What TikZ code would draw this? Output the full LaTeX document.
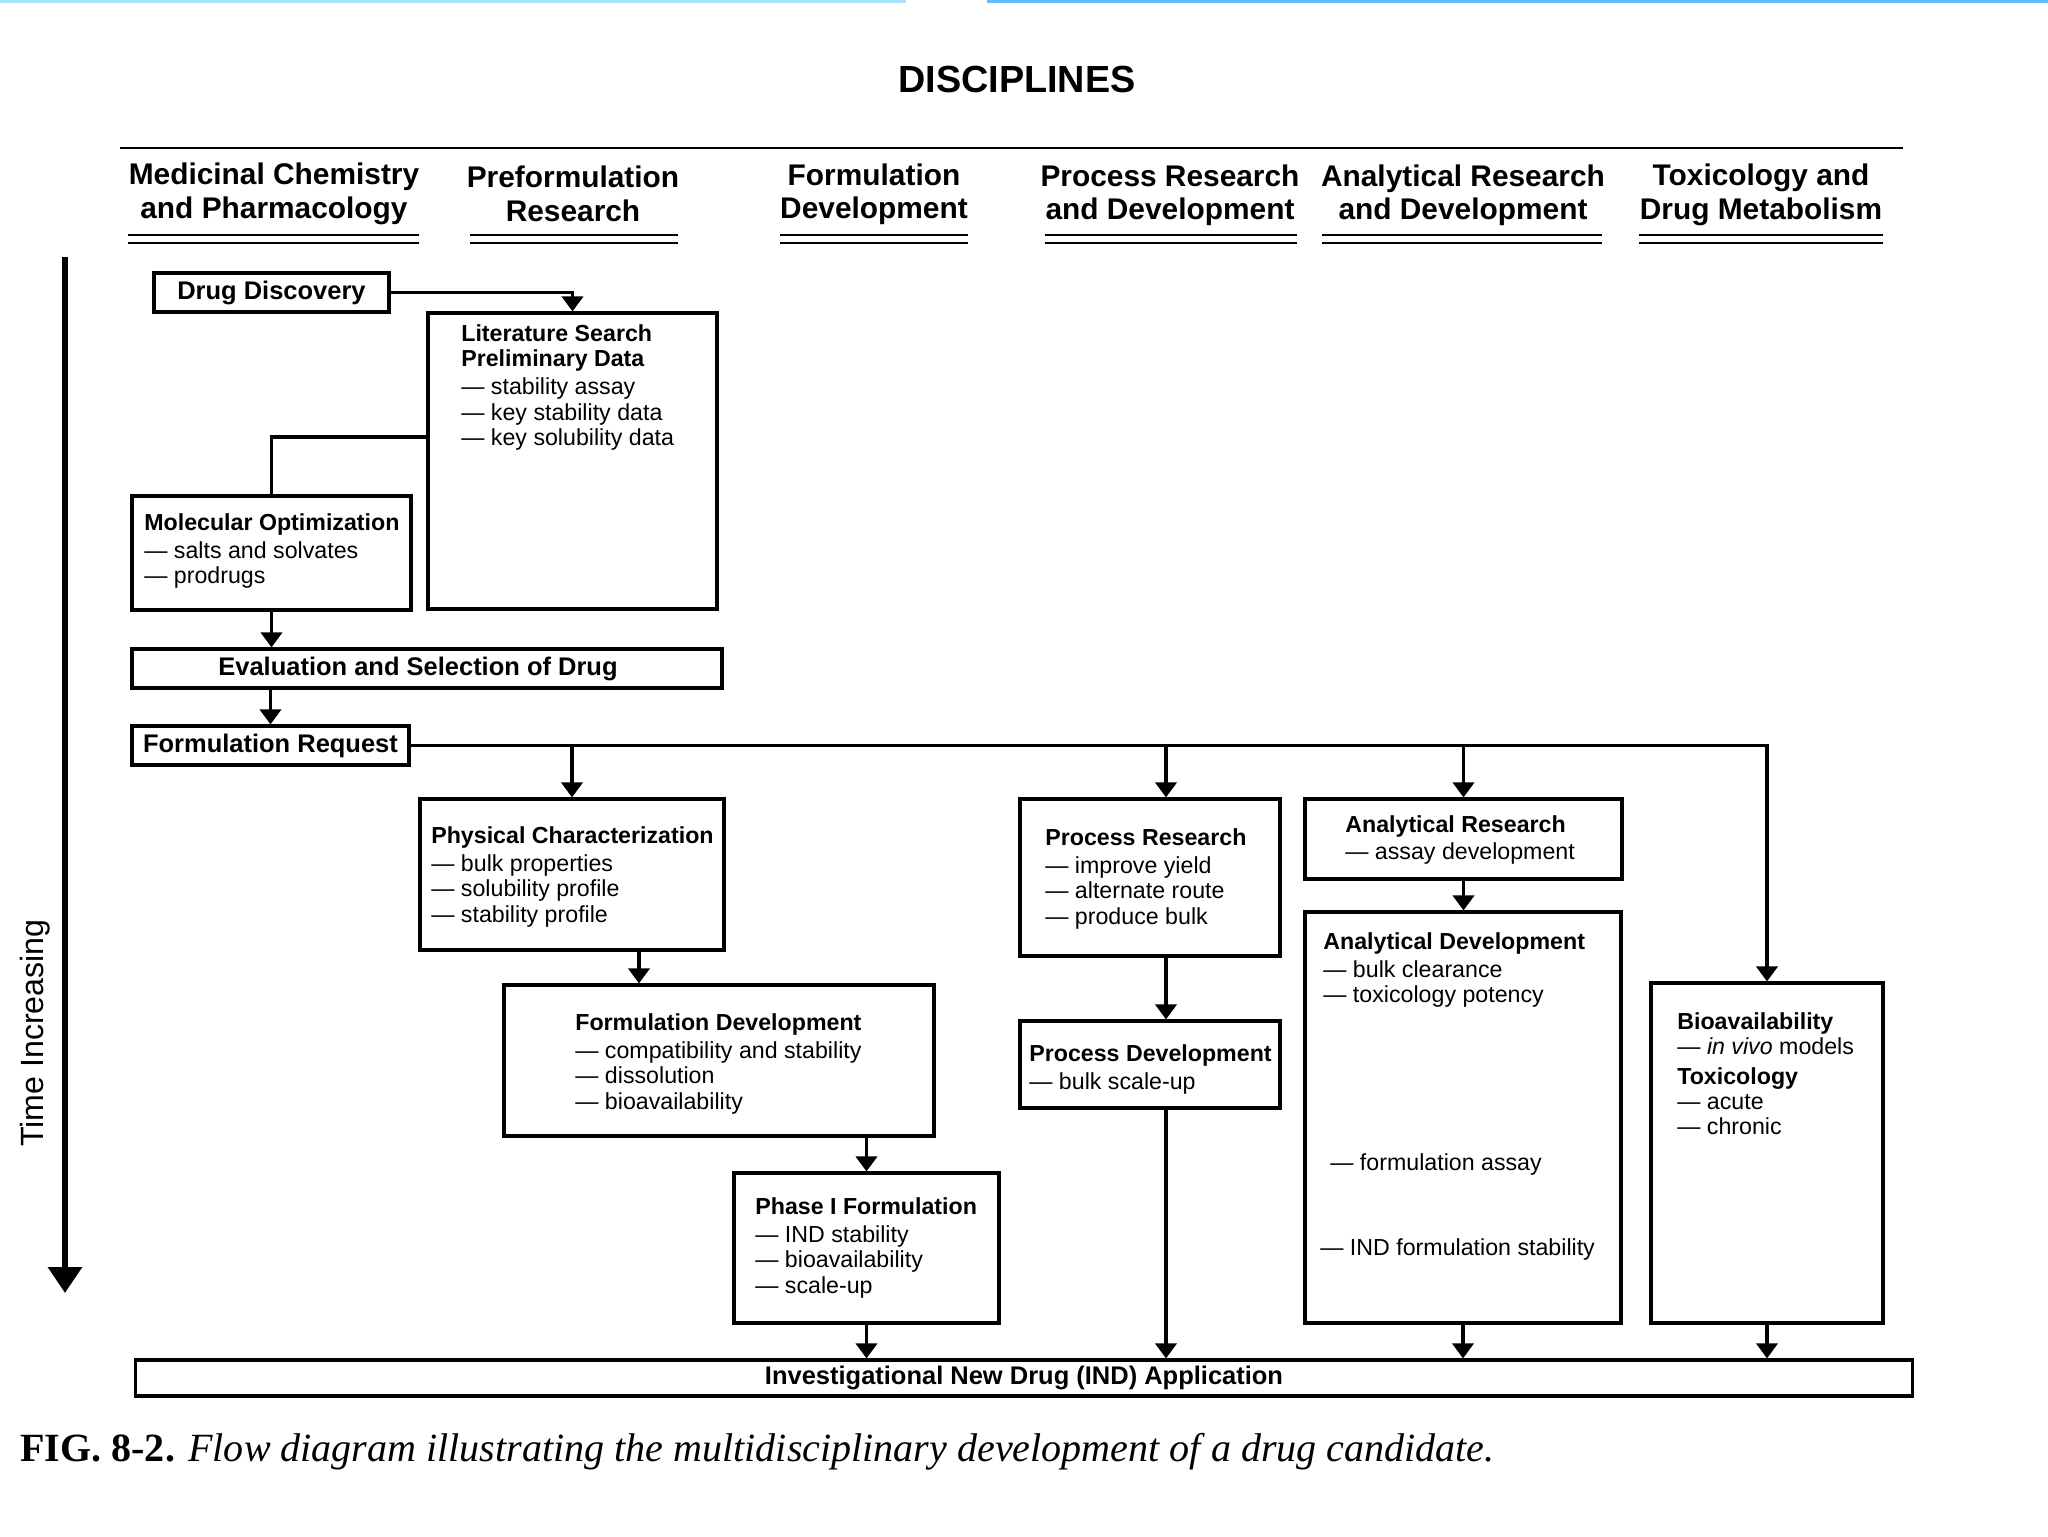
\documentclass[tikz,border=0pt]{standalone}
\usepackage{fontspec}
\setmainfont{Liberation Sans}
\newfontfamily\captionserif{Liberation Serif}
\usetikzlibrary{arrows.meta}

\tikzset{
  stage/.style={draw, line width=1.8pt, inner sep=0pt},
  stagetext/.style={anchor=north west, align=left, inner sep=0pt, font=\fontsize{13.2}{14.3}\selectfont},
  banner/.style={stage, font=\bfseries\fontsize{14.5}{16}\selectfont},
  discipline/.style={align=center, font=\bfseries\fontsize{17}{19}\selectfont},
  link/.style={line width=2pt},
  flow/.style={link, -{Triangle[width=0.42cm,length=0.3cm]}},
  rule/.style={line width=1.5pt},
}

\begin{document}
\begin{tikzpicture}[x=0.02cm, y=-0.02cm]
        \useasboundingbox (0,0) rectangle (2048,1536);
        \draw[cyan!35, line width=0.06cm] (0,1.5) -- (906,1.5);
        \draw[blue!45!cyan!60, line width=0.06cm] (987,1.5) -- (2048,1.5);

        % heading and disciplines
        \node[font=\bfseries\fontsize{21.5}{24}\selectfont] (title) at (1017,79) {DISCIPLINES};
        \draw[rule] (120,148) -- (1903,148);

        \node[discipline] (medchem) at (274,194) {Medicinal Chemistry\\and Pharmacology};
        \node[discipline] (preform) at (573,194) {Preformulation\\Research};
        \node[discipline] (formdev) at (874,194) {Formulation\\Development};
        \node[discipline] (procdev) at (1170,195) {Process Research\\and Development};
        \node[discipline] (analdev) at (1463,195) {Analytical Research\\and Development};
        \node[discipline] (toxdm) at (1761,195) {Toxicology and\\Drug Metabolism};

        \draw[rule] (128,235) -- (419,235);  \draw[rule] (128,243) -- (419,243);
        \draw[rule] (470,235) -- (678,235);  \draw[rule] (470,243) -- (678,243);
        \draw[rule] (780,235) -- (968,235);  \draw[rule] (780,243) -- (968,243);
        \draw[rule] (1045,235) -- (1297,235); \draw[rule] (1045,243) -- (1297,243);
        \draw[rule] (1322,235) -- (1602,235); \draw[rule] (1322,243) -- (1602,243);
        \draw[rule] (1639,235) -- (1883,235); \draw[rule] (1639,243) -- (1883,243);

        % time axis
        \coordinate (tstart) at (65,257);
        \coordinate (tend) at (65,1293);
        \draw[line width=3.6pt, -{Triangle[width=0.66cm,length=0.52cm]}] (tstart) -- (tend);
        \node[rotate=90, font=\fontsize{18.3}{20}\selectfont] (timelabel) at (35,1033) {Time Increasing};

        % boxes
        \node[banner, minimum width=4.70cm, minimum height=0.78cm] (dd) at (271.5,292.5) {Drug Discovery};
        \node[stage, minimum width=5.78cm, minimum height=5.92cm] (lit) at (572.5,461) {};
        \node[stage, minimum width=5.58cm, minimum height=2.28cm] (molopt) at (271.5,553) {};
        \node[banner, minimum width=11.8cm, minimum height=0.78cm] (eval) at (427,668.5) {Evaluation and Selection of Drug\hspace*{0.36cm}};
        \node[banner, minimum width=5.54cm, minimum height=0.78cm] (freq) at (270.5,745.5) {Formulation Request};
        \node[stage, minimum width=6.08cm, minimum height=3.02cm] (phys) at (572,874.5) {};
        \node[stage, minimum width=8.60cm, minimum height=3.02cm] (fdev) at (719,1060.5) {};
        \node[stage, minimum width=5.30cm, minimum height=3.00cm] (phase) at (866.5,1248) {};
        \node[stage, minimum width=5.20cm, minimum height=3.14cm] (procr) at (1150,877.5) {};
        \node[stage, minimum width=5.20cm, minimum height=1.74cm] (procd) at (1150,1064.5) {};
        \node[stage, minimum width=6.34cm, minimum height=1.60cm] (anar) at (1463.5,839) {};
        \node[stage, minimum width=6.32cm, minimum height=8.22cm] (anad) at (1463,1117.5) {};
        \node[stage, minimum width=4.64cm, minimum height=6.80cm] (biotox) at (1767,1153) {};
        \node[banner, minimum width=35.56cm, minimum height=0.72cm, font=\bfseries\fontsize{14.5}{16}\selectfont] (ind) at (1024,1378) {Investigational New Drug (IND) Application};

        % box contents
        \node[stagetext] (lit-t) at (461,324) {\textbf{Literature Search}\\\textbf{Preliminary Data}\\[2pt]--- stability assay\\--- key stability data\\--- key solubility data};
        \node[stagetext] (molopt-t) at (144,513) {\textbf{Molecular Optimization}\\[2pt]--- salts and solvates\\--- prodrugs};
        \node[stagetext] (phys-t) at (431,826) {\textbf{Physical Characterization}\\[2pt]--- bulk properties\\--- solubility profile\\--- stability profile};
        \node[stagetext] (fdev-t) at (575,1013) {\textbf{Formulation Development}\\[2pt]--- compatibility and stability\\--- dissolution\\--- bioavailability};
        \node[stagetext] (phase-t) at (755,1197) {\textbf{Phase I Formulation}\\[2pt]--- IND stability\\--- bioavailability\\--- scale-up};
        \node[stagetext] (procr-t) at (1045,828) {\textbf{Process Research}\\[2pt]--- improve yield\\--- alternate route\\--- produce bulk};
        \node[stagetext] (procd-t) at (1029,1044) {\textbf{Process Development}\\[2pt]--- bulk scale-up};
        \node[stagetext] (anar-t) at (1345,815) {\textbf{Analytical Research}\\[1pt]--- assay development};
        \node[stagetext] (anad-t) at (1323,932) {\textbf{Analytical Development}\\[2pt]--- bulk clearance\\--- toxicology potency};
        \node[stagetext] (anad-t2) at (1330,1153) {--- formulation assay};
        \node[stagetext] (anad-t3) at (1320,1238) {--- IND formulation stability};
        \node[stagetext] (biotox-t) at (1677,1012) {\textbf{Bioavailability}\\--- \textit{in vivo} models\\[3pt]\textbf{Toxicology}\\--- acute\\--- chronic};

        % connectors
        \draw[flow] (dd.east) -| (lit.north);
        \draw[link] ([yshift=0.48cm]lit.west) -| (molopt.north);
        \draw[flow] (molopt.south) -- (molopt.south |- eval.north);
        \draw[flow] (freq.north |- eval.south) -- (freq.north);
        \draw[flow] (freq.east) -| (biotox.north);
        \draw[flow] (phys.north |- freq.east) -- (phys.north);
        \draw[flow] ([xshift=0.32cm]procr.north |- freq.east) -- ([xshift=0.32cm]procr.north);
        \draw[flow] (anar.north |- freq.east) -- (anar.north);
        \draw[flow] ([xshift=1.34cm]phys.south) -- ([xshift=1.34cm]phys.south |- fdev.north);
        \draw[flow] (phase.north |- fdev.south) -- (phase.north);
        \draw[flow] ([xshift=0.32cm]procr.south) -- ([xshift=0.32cm]procd.north);
        \draw[flow] (anar.south) -- (anar.south |- anad.north);
        \draw[flow] (phase.south) -- (phase.south |- ind.north);
        \draw[flow] ([xshift=0.32cm]procd.south) -- ([xshift=0.32cm]procd.south |- ind.north);
        \draw[flow] (anad.south) -- (anad.south |- ind.north);
        \draw[flow] (biotox.south) -- (biotox.south |- ind.north);

        % caption
        \node[anchor=west, inner sep=0pt, font=\captionserif\fontsize{22.8}{25}\selectfont] (caption) at (20,1452) {\textbf{FIG. 8-2.} \textit{Flow diagram illustrating the multidisciplinary development of a drug candidate.}};
\end{tikzpicture}
\end{document}
